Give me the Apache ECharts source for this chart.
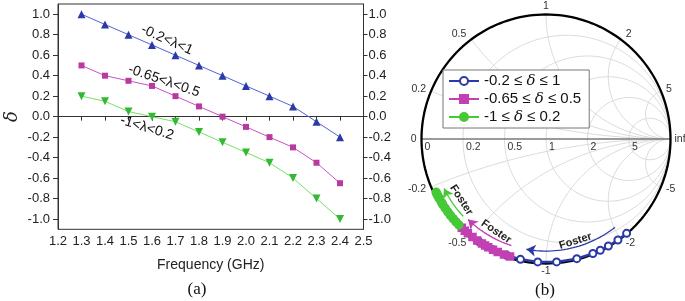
<!DOCTYPE html>
<html>
<head>
<meta charset="utf-8">
<script src="https://cdn.jsdelivr.net/npm/echarts@6/dist/echarts.min.js"></script>
<style>
html, body { margin: 0; padding: 0; background: #fff; }
#main { width: 685px; height: 301px; }
</style>
</head>
<body>
<div id="main"></div>
<script>
// ---- panel (a): delta vs frequency ----
var freq = [1.3, 1.4, 1.5, 1.6, 1.7, 1.8, 1.9, 2.0, 2.1, 2.2, 2.3, 2.4]
var deltaBlue = [1.0, 0.9, 0.8, 0.7, 0.6, 0.5, 0.4, 0.3, 0.2, 0.1, -0.05, -0.2]
var deltaMagenta = [0.5, 0.4, 0.35, 0.3, 0.2, 0.1, 0.0, -0.1, -0.2, -0.3, -0.45, -0.65]
var deltaGreen = [0.2, 0.15, 0.05, 0.0, -0.05, -0.15, -0.25, -0.35, -0.45, -0.6, -0.8, -1.0]
var yTicks = [-1.0, -0.8, -0.6, -0.4, -0.2, 0.0, 0.2, 0.4, 0.6, 0.8, 1.0]

// ---- panel (b): Smith chart ----
var gridValues = [0.2, 0.5, 1, 2, 5]
var resistanceLabels = [0, 0.2, 0.5, 1, 2, 5]
var reactanceLabels = [0, 0.2, 0.5, 1, 2, 5, -0.2, -0.5, -1, -2, -5]
var pointResistance = 0.01
var reactBlue = [-2.17, -1.94, -1.74, -1.6, -1.49, -1.29, -1.09, -0.935, -0.81, -0.72, -0.63, -0.54]
var reactMagenta = [-0.74, -0.7, -0.66, -0.63, -0.6, -0.58, -0.56, -0.53, -0.5, -0.47, -0.45, -0.43]
var reactGreen = [-0.41, -0.39, -0.37, -0.35, -0.33, -0.31, -0.29, -0.28, -0.26, -0.25, -0.24, -0.23]
var legendNames = ['-0.2 ≤ δ ≤ 1', '-0.65 ≤ δ ≤ 0.5', '-1 ≤ δ ≤ 0.2']

var BLUE = '#2b3aa6'
var MAGENTA = '#c23fb4'
var GREEN = '#46c936'

function zip (xs, ys) {
  return xs.map(function (x, i) { return [x, ys[i]] })
}

// reflection coefficient of normalised impedance r + jx
function gamma (r, x) {
  var d = (r + 1) * (r + 1) + x * x
  return [(r * r + x * x - 1) / d, 2 * x / d]
}

function resistanceCircle (r) {
  var pts = []
  var c = r / (1 + r)
  var rad = 1 / (1 + r)
  for (var i = 0; i <= 180; i++) {
    var a = i / 180 * 2 * Math.PI
    pts.push([c + rad * Math.cos(a), rad * Math.sin(a)])
  }
  return pts
}

function reactanceArc (x) {
  var pts = []
  for (var i = 0; i < 200; i++) {
    var t = i / 200 * Math.PI / 2
    pts.push(gamma(Math.tan(t), x))
  }
  pts.push([1, 0])
  return pts
}

function arcPoints (radius, from, to) {
  var pts = []
  for (var i = 0; i <= 30; i++) {
    var a = (from + (to - from) * i / 30) * Math.PI / 180
    pts.push([radius * Math.cos(a), radius * Math.sin(a)])
  }
  return pts
}

var smithGrid = []
gridValues.forEach(function (v) {
  smithGrid.push(resistanceCircle(v))
  smithGrid.push(reactanceArc(v))
  smithGrid.push(reactanceArc(-v))
})

var gridSeries = smithGrid.map(function (pts) {
  return {
    type: 'line', xAxisIndex: 1, yAxisIndex: 2, data: pts, showSymbol: false,
    silent: true, clip: false, z: 1,
    lineStyle: { color: '#dadada', width: 1 }
  }
})

function smithSeries (name, react, color, symbol, size) {
  return {
    name: name, type: 'line', xAxisIndex: 1, yAxisIndex: 2, clip: false, z: 5,
    data: react.map(function (x) { return gamma(pointResistance, x) }),
    symbol: symbol, symbolSize: size, showSymbol: true,
    lineStyle: { color: color, width: 2.5 },
    itemStyle: { color: color, borderColor: color, borderWidth: 1.5 }
  }
}

var fosterArrows = [
  { radius: 0.9, from: -52, to: -100, color: BLUE, text: [0.237, -0.82], rot: 17 },
  { radius: 0.9, from: -108, to: -134, color: MAGENTA, text: [-0.4, -0.745], rot: -34 },
  { radius: 0.91, from: -137, to: -154, color: GREEN, text: [-0.68, -0.49], rot: -57 }
]

// arc body drawn as a line, arrow head as a short straight 'lines' segment
var arrowSeries = []
fosterArrows.forEach(function (a) {
  var pts = arcPoints(a.radius, a.from, a.to)
  arrowSeries.push({
    type: 'line', xAxisIndex: 1, yAxisIndex: 2, data: pts, showSymbol: false,
    silent: true, clip: false, z: 6, lineStyle: { color: a.color, width: 1.3 }
  })
  arrowSeries.push({
    type: 'lines', coordinateSystem: 'cartesian2d', xAxisIndex: 1, yAxisIndex: 2,
    silent: true, z: 6, symbol: ['none', 'arrow'], symbolSize: 9,
    lineStyle: { color: a.color, width: 1.3, opacity: 1 },
    data: [{ coords: [pts[pts.length - 3], pts[pts.length - 1]] }]
  })
})

var chart = echarts.init(document.getElementById('main'))

var lineSeries = [
  { name: 'a1', data: zip(freq, deltaBlue), color: BLUE, line: '#5262d6', symbol: 'triangle', size: 8, rot: 0 },
  { name: 'a2', data: zip(freq, deltaMagenta), color: '#b8399f', line: '#cc4fc4', symbol: 'rect', size: 6, rot: 0 },
  { name: 'a3', data: zip(freq, deltaGreen), color: '#33b833', line: '#72e362', symbol: 'triangle', size: 8, rot: 180 }
].map(function (s) {
  return {
    name: s.name, type: 'line', xAxisIndex: 0, yAxisIndex: 0, data: s.data,
    symbol: s.symbol, symbolSize: s.size, symbolRotate: s.rot,
    lineStyle: { color: s.line, width: 1 },
    itemStyle: { color: s.color }
  }
})

var option = {
  animation: false,
  textStyle: { fontFamily: 'Liberation Sans' },
  grid: [
    { left: 58, top: 4, width: 305.5, height: 225.3, show: true, borderColor: '#333', borderWidth: 1 },
    { left: 421.5, top: 14.5, width: 249, height: 249 }
  ],
  legend: {
    data: legendNames, orient: 'vertical', left: 443, top: 70,
    itemWidth: 30, itemHeight: 10, itemGap: 2,
    padding: [3, 8, 3, 5], backgroundColor: '#fff', borderColor: '#777', borderWidth: 1,
    selectedMode: false,
    formatter: function (name) {
      return name.replace('δ', '{d|δ}')
    },
    textStyle: {
      fontSize: 15, lineHeight: 16, color: '#111', fontFamily: 'Liberation Sans',
      rich: { d: { fontFamily: 'DejaVu Serif', fontStyle: 'italic', fontSize: 15, lineHeight: 16, color: '#111' } }
    }
  },
  xAxis: [
    {
      type: 'value', gridIndex: 0, min: 1.2, max: 2.5, interval: 0.1,
      axisLine: { lineStyle: { color: '#333' } },
      axisTick: { length: 4, lineStyle: { color: '#333' } },
      axisLabel: { fontSize: 13, color: '#222', margin: 6, formatter: function (v) { return v.toFixed(1) } },
      splitLine: { show: false },
      name: 'Frequency (GHz)', nameLocation: 'middle', nameGap: 29,
      nameTextStyle: { fontSize: 14, color: '#222' }
    },
    { type: 'value', gridIndex: 1, min: -1, max: 1, show: false }
  ],
  yAxis: [
    {
      type: 'value', gridIndex: 0, min: -1.1, max: 1.1, position: 'left',
      axisLine: { show: true, lineStyle: { color: '#333' } },
      axisTick: { show: true, length: 5, customValues: yTicks, lineStyle: { color: '#333' } },
      axisLabel: { customValues: yTicks, fontSize: 13, color: '#222', margin: 8, formatter: function (v) { return v.toFixed(1) } },
      splitLine: { show: false },
      name: 'δ', nameLocation: 'middle', nameGap: 37, nameRotate: 90,
      nameTextStyle: { fontSize: 18, fontFamily: 'DejaVu Serif', fontStyle: 'italic', color: '#222' }
    },
    {
      type: 'value', gridIndex: 0, min: -1.1, max: 1.1, position: 'right',
      axisLine: { show: true, lineStyle: { color: '#333' } },
      axisTick: { show: true, length: 4, customValues: yTicks, lineStyle: { color: '#333' } },
      axisLabel: { customValues: yTicks, fontSize: 13, color: '#222', margin: 5, formatter: function (v) { return v.toFixed(1) } },
      splitLine: { show: false }
    },
    { type: 'value', gridIndex: 1, min: -1, max: 1, show: false }
  ],
  series: lineSeries.concat(gridSeries).concat([
    {
      type: 'line', xAxisIndex: 1, yAxisIndex: 2, data: [[-1, 0], [1, 0]], showSymbol: false,
      silent: true, clip: false, z: 2, lineStyle: { color: '#7a7a7a', width: 1.5 }
    },
    {
      type: 'line', xAxisIndex: 1, yAxisIndex: 2, data: resistanceCircle(0), showSymbol: false,
      silent: true, clip: false, z: 3, lineStyle: { color: '#000', width: 2.3 }
    },
    smithSeries(legendNames[0], reactBlue, BLUE, 'emptyCircle', 7),
    smithSeries(legendNames[1], reactMagenta, MAGENTA, 'rect', 7),
    smithSeries(legendNames[2], reactGreen, GREEN, 'circle', 8)
  ]).concat(arrowSeries)
}

chart.setOption(option)

// text annotations
function toPx (p) {
  return chart.convertToPixel({ gridIndex: 1 }, p)
}

function textEl (x, y, text, opts) {
  return {
    type: 'text', x: x, y: y, rotation: (opts.rot || 0) * Math.PI / 180, z: 20,
    style: {
      text: text, fill: opts.color || '#222', fontSize: opts.size || 10.5,
      fontFamily: opts.family || 'Liberation Sans', fontWeight: opts.weight || 'normal',
      fontStyle: opts.style || 'normal',
      align: opts.align || 'center', verticalAlign: opts.valign || 'middle'
    }
  }
}

var graphics = []
graphics.push(textEl(167, 40, '-0.2<λ<1', { size: 14, rot: -24, color: '#111' }))
graphics.push(textEl(164, 81, '-0.65<λ<0.5', { size: 14, rot: -19, color: '#111' }))
graphics.push(textEl(147, 128, '-1<λ<0.2', { size: 14, rot: -17, color: '#111' }))
graphics.push(textEl(197, 290, '(a)', { size: 17, family: 'Liberation Serif', color: '#111' }))
graphics.push(textEl(545, 291, '(b)', { size: 17, family: 'Liberation Serif', color: '#111' }))

resistanceLabels.forEach(function (r) {
  var p = toPx([(r - 1) / (r + 1), 0])
  graphics.push(textEl(p[0] + 3, p[1] + 3, String(r), { align: 'left', valign: 'top', color: '#333' }))
})

reactanceLabels.forEach(function (x) {
  var g = gamma(0, x)
  var p = toPx(g)
  var align = 'center'
  var dx = 0
  var dy = -6 * g[1]
  if (g[0] < -0.1) { align = 'right'; dx = -5 }
  if (g[0] > 0.1) { align = 'left'; dx = 5 }
  if (Math.abs(g[0]) <= 0.1) dy = -8 * g[1]
  graphics.push(textEl(p[0] + dx, p[1] + dy, String(x), { align: align, color: '#333' }))
})
var infPx = toPx([1, 0])
graphics.push(textEl(infPx[0] + 4, infPx[1], 'inf', { align: 'left', color: '#333' }))

fosterArrows.forEach(function (a) {
  var p = toPx(a.text)
  graphics.push(textEl(p[0], p[1], 'Foster', { size: 11, weight: 'bold', rot: a.rot, color: '#222' }))
})

chart.setOption({ graphic: graphics })
</script>
</body>
</html>
